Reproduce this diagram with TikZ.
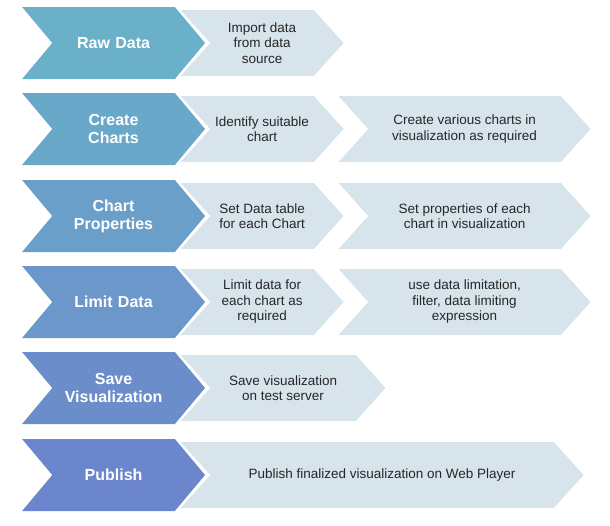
\documentclass[tikz,border=0pt]{standalone}
\usepackage{fontspec}
\setmainfont{Liberation Sans}
\usetikzlibrary{shapes.symbols, positioning}
\definecolor{stepA}{HTML}{6AB0C9}
\definecolor{stepF}{HTML}{6B86CC}
\definecolor{taskbg}{HTML}{D8E4EC}
\tikzset{
	% define styles
	stepnodestyle/.style={
		signal, signal from=west, signal to=east,
		signal pointer angle=100,
		minimum height=72pt, minimum width=183pt,
		inner sep=0pt, text width=100pt, align=center,
		fill=stepA!#1!stepF, text=white,
		font=\fontsize{16}{18}\selectfont\bfseries
	},
	tasknodestyle/.style={
		signal, signal from=west, signal to=east,
		signal pointer angle=96,
		minimum height=66pt, minimum width=#1,
		inner sep=0pt, align=center,
		fill=taskbg, text=black!85,
		font=\fontsize{13.5}{15.5}\selectfont
	}
}
\begin{document}
\begin{tikzpicture} [x=1pt, y=1pt]
		\useasboundingbox (0,0) rectangle (610,-525);

		% draw tasks
		\node (tImport) [tasknodestyle=163pt, anchor=west] at (210,-43) {Import data\\from data\\source};
		\node (tIdentify) [tasknodestyle=163pt, anchor=west] at (210,-129) {Identify suitable\\chart};
		\node (tCharts) [tasknodestyle=252pt, anchor=west] at (368,-129) {Create various charts in\\visualization as required};
		\node (tTable) [tasknodestyle=163pt, anchor=west] at (210,-216) {Set Data table\\for each Chart};
		\node (tSetProps) [tasknodestyle=252pt, anchor=west] at (368,-216) {Set properties of each\\chart in visualization};
		\node (tLimit) [tasknodestyle=163pt, anchor=west] at (210,-302) {Limit data for\\each chart as\\required};
		\node (tFilter) [tasknodestyle=252pt, anchor=west] at (368,-302) {use data limitation,\\filter, data limiting\\expression};
		\node (tSave) [tasknodestyle=205pt, anchor=west] at (210,-388) {Save visualization\\on test server};
		\node (tPublish) [tasknodestyle=403pt, anchor=west] at (210,-475) {Publish finalized visualization on Web Player};

		% draw steps
		\node (sRaw) [stepnodestyle=100, anchor=west] at (52,-43) {Raw Data};
		\node (sCreate) [stepnodestyle=80, anchor=west] at (52,-129) {Create\\Charts};
		\node (sProps) [stepnodestyle=60, anchor=west] at (52,-216) {Chart\\Properties};
		\node (sLimit) [stepnodestyle=40, anchor=west] at (52,-302) {Limit Data};
		\node (sSave) [stepnodestyle=20, anchor=west] at (52,-388) {Save\\Visualization};
		\node (sPublish) [stepnodestyle=0, anchor=west] at (52,-475) {Publish};
	\end{tikzpicture}
\end{document}
